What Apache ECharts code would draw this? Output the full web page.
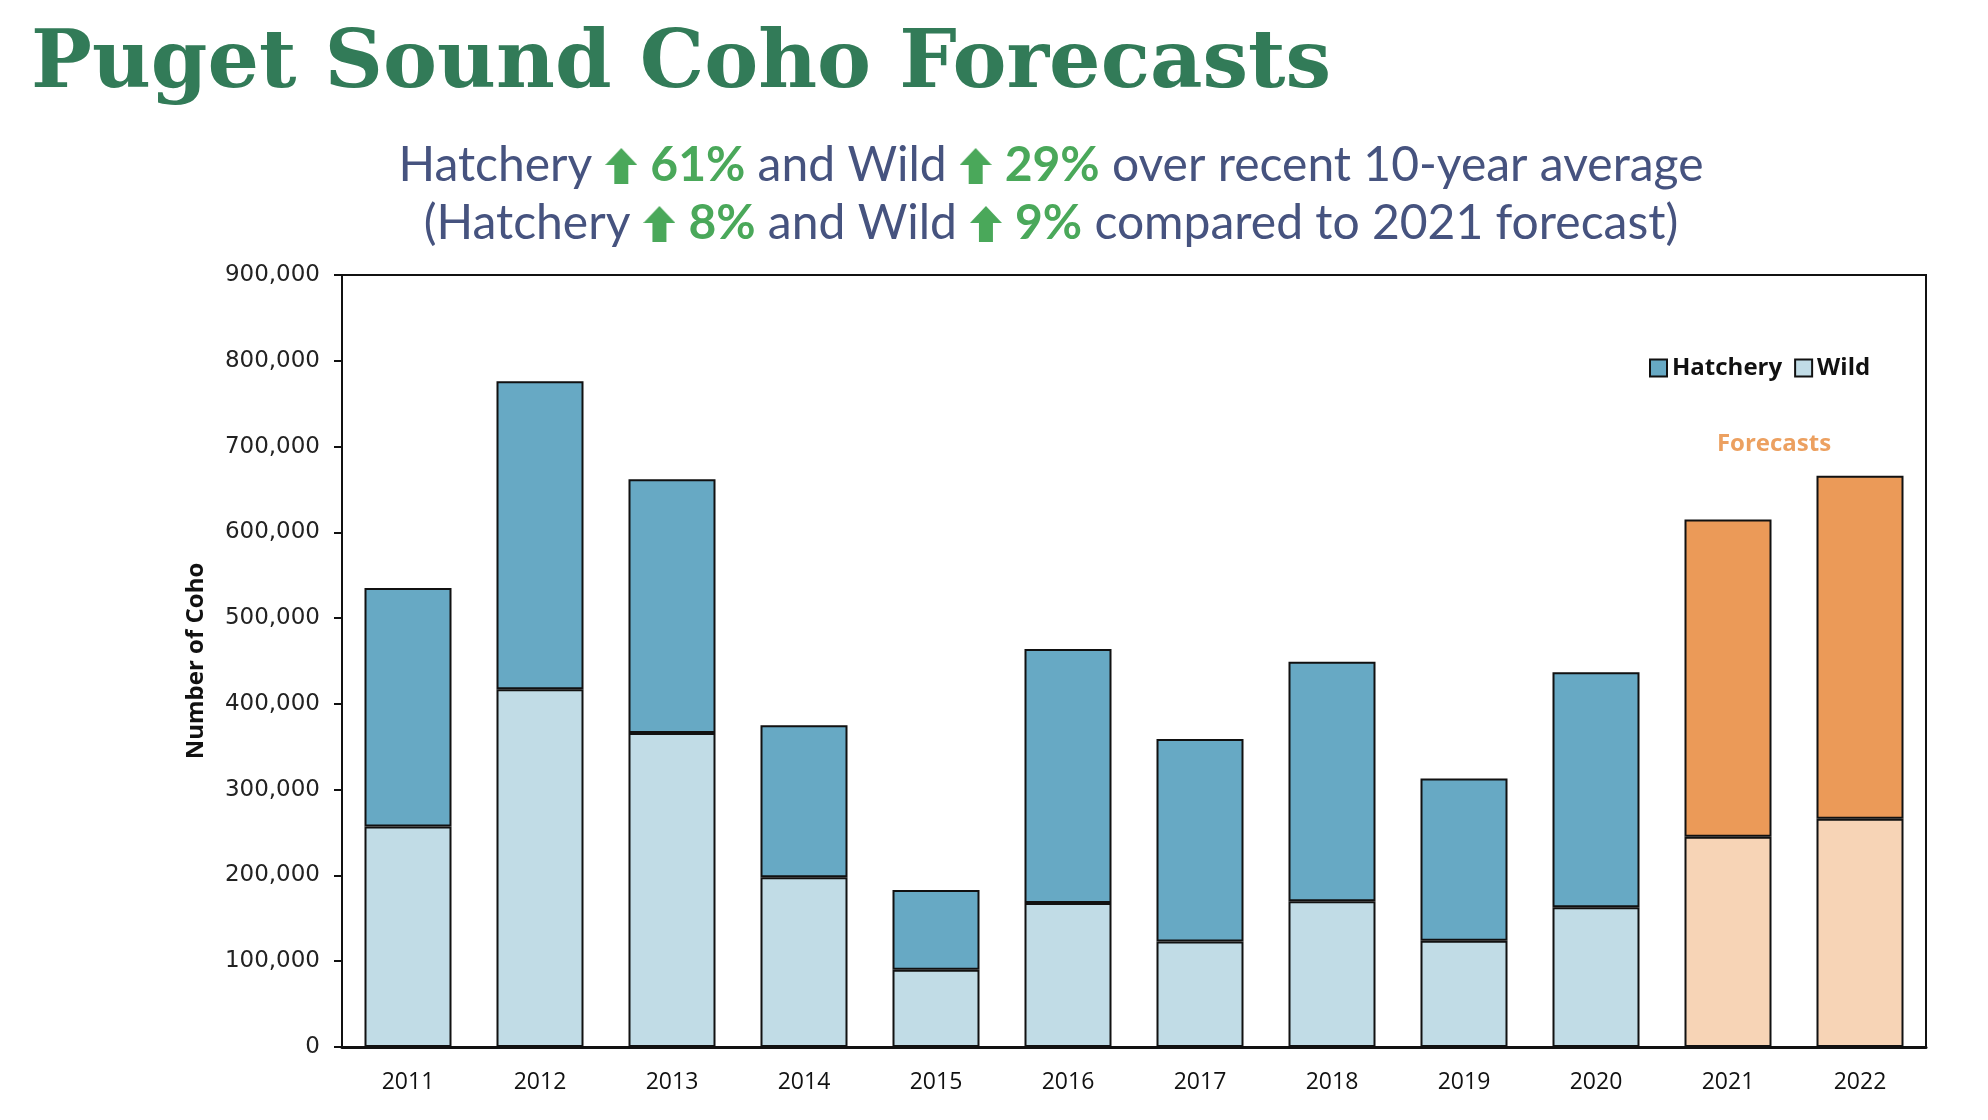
<!DOCTYPE html>
<html style="height: 100%">
<head>
    <meta charset="utf-8">
    <title>Puget Sound Coho Forecasts</title>
</head>
<body style="margin: 0; background: #fff">
<div id="container" style="width: 1988px; height: 1120px"></div>

<script src="https://cdn.jsdelivr.net/npm/echarts@6/dist/echarts.min.js" type="text/javascript"></script>
<script type="text/javascript">

    // years on the x axis
    var years = ['2011', '2012', '2013', '2014', '2015', '2016', '2017', '2018', '2019', '2020', '2021', '2022'];
    // stacked bottom part
    var wild = [257000, 417000, 366000, 198000, 90000, 168000, 123000, 170000, 124000, 163000, 245000, 266000];
    // stacked top part
    var hatchery = [278000, 359000, 296000, 177000, 93000, 296000, 236000, 279000, 189000, 274000, 370000, 400000];
    // years drawn in orange
    var forecastYears = ['2021', '2022'];
    var yTicks = [0, 100000, 200000, 300000, 400000, 500000, 600000, 700000, 800000, 900000];

    var dom = document.getElementById('container');
    var myChart = echarts.init(dom);

    function paint(values, normal, forecast) {
        return values.map(function (v, i) {
            var isForecast = forecastYears.indexOf(years[i]) >= 0;
            return {value: v, itemStyle: {color: isForecast ? forecast : normal}};
        });
    }

    // block arrow used inside the subtitle
    var arrowCanvas = document.createElement('canvas');
    arrowCanvas.width = 32;
    arrowCanvas.height = 36;
    var ctx = arrowCanvas.getContext('2d');
    ctx.fillStyle = '#4aa85a';
    ctx.beginPath();
    ctx.moveTo(16, 0);
    ctx.lineTo(32, 17);
    ctx.lineTo(23, 17);
    ctx.lineTo(23, 36);
    ctx.lineTo(9, 36);
    ctx.lineTo(9, 17);
    ctx.lineTo(0, 17);
    ctx.closePath();
    ctx.fill();

    // rich text styles for the subtitle (graphic text uses fill)
    var textN = {fill: '#46537f', fontSize: 48, fontFamily: 'Lato'};
    var textG = {fill: '#4aa85a', fontSize: 48, fontFamily: 'Lato', fontWeight: 'bold'};
    var arrow = {width: 32, height: 36, backgroundColor: {image: arrowCanvas}, verticalAlign: 'middle'};
    var gap = {width: 13, fontSize: 48, fontFamily: 'Lato'};

    var option = {
        backgroundColor: '#fff',
        animation: false,
        title: {
            text: 'Puget Sound Coho Forecasts',
            left: 26,
            top: 20,
            textStyle: {
                color: '#327b58',
                fontFamily: 'DejaVu Serif',
                fontWeight: 'bold',
                fontSize: 81
            }
        },
        graphic: [{
            type: 'text',
            x: 1051,
            y: 137,
            style: {
                text: '{n|Hatchery}{s| }{a|}{s| }{g|61%}{n| and Wild}{s| }{a|}{s| }{g|29%}{n| over recent 10-year average}\n' +
                    '{n|(Hatchery}{s| }{a|}{s| }{g|8%}{n| and Wild}{s| }{a|}{s| }{g|9%}{n| compared to 2021 forecast)}',
                align: 'center',
                lineHeight: 58,
                rich: {n: textN, g: textG, a: arrow, s: gap}
            }
        }, {
            type: 'text',
            x: 1774,
            y: 432,
            style: {
                text: 'Forecasts',
                align: 'center',
                fill: '#eca060',
                fontSize: 24,
                fontWeight: 'bold',
                fontFamily: 'Open Sans'
            }
        }],
        legend: {
            data: ['Hatchery', 'Wild'],
            left: 1644,
            top: 351,
            itemWidth: 17,
            itemHeight: 17,
            itemGap: 12,
            icon: 'rect',
            textStyle: {color: '#111', fontWeight: 'bold', fontSize: 24, fontFamily: 'Open Sans'}
        },
        grid: {
            left: 342,
            right: 62,
            top: 275,
            bottom: 73,
            show: true,
            borderColor: '#111',
            borderWidth: 2,
            containLabel: false
        },
        xAxis: {
            type: 'category',
            data: years,
            axisLine: {lineStyle: {color: '#111', width: 3}},
            axisTick: {length: 8, lineStyle: {color: '#111', width: 2}},
            axisLabel: {color: '#111', fontSize: 23, fontFamily: 'Open Sans', margin: 24}
        },
        yAxis: {
            type: 'value',
            min: yTicks[0],
            max: yTicks[yTicks.length - 1],
            interval: 100000,
            name: 'Number of Coho',
            nameLocation: 'middle',
            nameGap: 134,
            nameTextStyle: {color: '#111', fontWeight: 'bold', fontSize: 24, fontFamily: 'Open Sans'},
            axisLine: {show: true, lineStyle: {color: '#111', width: 2}},
            axisTick: {show: true, length: 8, lineStyle: {color: '#111', width: 2}},
            splitLine: {show: false},
            axisLabel: {
                color: '#222',
                fontSize: 23,
                fontFamily: 'DejaVu Sans',
                margin: 22,
                formatter: function (v) { return echarts.format.addCommas(v); }
            }
        },
        series: [{
            name: 'Wild',
            type: 'bar',
            stack: 'total',
            barWidth: 87,
            data: paint(wild, '#c1dce6', '#f7d4b6'),
            itemStyle: {color: '#c1dce6', borderColor: '#111', borderWidth: 2}
        }, {
            name: 'Hatchery',
            type: 'bar',
            stack: 'total',
            barWidth: 87,
            data: paint(hatchery, '#67a9c4', '#eb9a58'),
            itemStyle: {color: '#67a9c4', borderColor: '#111', borderWidth: 2}
        }]
    };

    myChart.setOption(option, true);
</script>
</body>
</html>
